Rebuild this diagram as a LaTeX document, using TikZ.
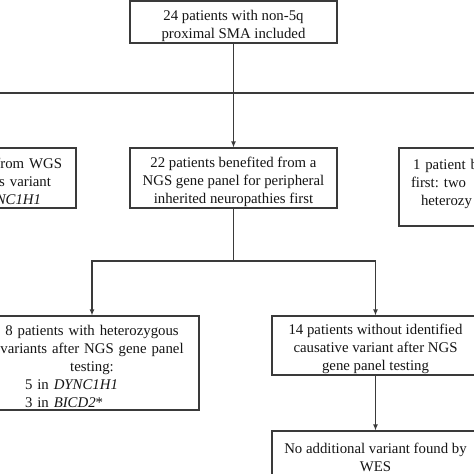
\documentclass[tikz,border=0pt]{standalone}
\usepackage{fontspec}
\setmainfont{Liberation Serif}
\usetikzlibrary{arrows.meta}
\frenchspacing
\newcommand\flowfont{\fontsize{14.8}{18}\selectfont}
\newcommand\tstrut{\rule{0pt}{18pt}}
\definecolor{linec}{HTML}{3A3A3A}
\definecolor{textc}{HTML}{151515}
\begin{document}
\begin{tikzpicture}[x=1pt,y=-1pt,
  box/.style={draw=linec, line width=1.1pt, inner sep=0pt, align=center,
    font=\flowfont, text=textc},
  link/.style={draw=linec, line width=1.2pt},
  arr/.style={link, -{Latex[length=6pt,width=5pt]}}]
\useasboundingbox (0,0) rectangle (474,474);
\clip (0,0) rectangle (474,474);
\fill[white] (0,0) rectangle (474,474);

\node[box, minimum width=207pt, minimum height=42pt] (top) at (233.5,22)
  {\tstrut 24 patients with non-5q\\proximal SMA included};
\node[box, minimum width=207pt, minimum height=60pt] (mid) at (233.5,178)
  {\tstrut 22 patients benefited from a\\NGS gene panel for peripheral\\inherited neuropathies first};
\node[box, minimum width=213pt, minimum height=60pt, text width=213pt, align=right] (lb) at (-30.5,178)
  {\tstrut from WGS\kern14pt\\s variant\kern25pt\\\textit{NC1H1}\kern35pt};
\node[box, minimum width=207pt, minimum height=78pt, text width=207pt, align=left] (rb) at (502.5,187)
  {\hspace*{14pt}\tstrut 1 patient b\\\hspace*{12pt}first: two\\\hspace*{22pt}heterozy\\\mbox{}};
\node[box, minimum width=214pt, minimum height=94pt, text width=214pt] (ll) at (92,363)
  {{\centering \tstrut 8 patients with heterozygous\\variants after NGS gene panel\\testing:\par}
   {\raggedright\hspace*{40pt}5 in \textit{DYNC1H1}\\\hspace*{40pt}3 in \textit{BICD2}*\par}};
\node[box, minimum width=207pt, minimum height=59pt] (lr) at (375.5,345.5)
  {\tstrut 14 patients without identified\\causative variant after NGS\\gene panel testing};
\node[box, minimum width=207pt, minimum height=46pt] (bt) at (375.5,454)
  {\tstrut No additional variant found by\\WES};

\coordinate (hl) at (-5,93);
\coordinate (hr) at (479,93);
\coordinate (br) at (233.5,261);
\draw[link] (hl) -- (hr);
\draw[arr] (top.south) -- (mid.north);
\draw[link] (mid.south) -- (br);
\draw[arr] (br) -| (ll.north);
\draw[arr] (br) -| (lr.north);
\draw[arr] (lr.south) -- (bt.north);
\end{tikzpicture}
\end{document}
